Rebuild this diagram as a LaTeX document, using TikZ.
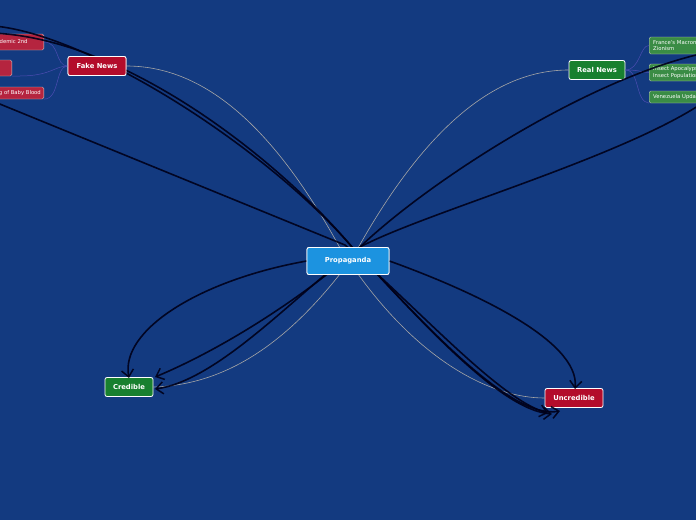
\documentclass[tikz,border=0pt]{standalone}
\usepackage{fontspec}
\setmainfont{DejaVu Sans}
\usetikzlibrary{arrows.meta}
\definecolor{bg}{HTML}{133A80}
\definecolor{cred}{HTML}{B30C2B}
\definecolor{cgreen}{HTML}{18802F}
\definecolor{cblue}{HTML}{1C93E0}
\definecolor{sred}{HTML}{B5243F}
\definecolor{sgreen}{HTML}{3A8C45}
\begin{document}
\begin{tikzpicture}[x=1pt,y=-1pt,
  main/.style={draw=white,line width=0.8pt,rounded corners=2pt,text=white,font=\bfseries\fontsize{6.8}{7}\selectfont,inner sep=0pt},
  sub/.style={draw=white!60!gray,line width=0.3pt,rounded corners=1.5pt,text=white,font=\fontsize{5.3}{6.3}\selectfont,inner sep=1.5pt,align=left},
  conn/.style={draw=gray!70,line width=0.6pt},
  sconn/.style={draw=gray!60!blue,line width=0.5pt},
  rel/.style={draw=black!90!blue,line width=1.6pt,opacity=0.9},
  relarr/.style={rel,-{Straight Barb[length=7pt,width=12pt,line width=1.5pt]}}]
\fill[bg] (0,0) rectangle (696,520);
\useasboundingbox (0,0) rectangle (696,520);
\begin{scope}
\clip (0,0) rectangle (696,520);
% children left
\node[sub,fill=sred,minimum height=16pt,anchor=east,minimum width=70pt,inner xsep=4pt] (l1) at (44,42) {Pandemic 2nd};
\node[sub,fill=sred,minimum height=16pt,anchor=east,minimum width=40pt] (l2) at (12,68) {};
\node[sub,fill=sred,minimum height=12pt,anchor=east,inner xsep=3pt] (l3) at (44,93) {Drinking of Baby Blood};
% children right
\node[sub,fill=sgreen,minimum height=17pt,anchor=west,text width=60pt,inner xsep=4pt] (r1) at (649,45.5) {France's Macron\\Zionism};
\node[sub,fill=sgreen,minimum height=17pt,anchor=west,text width=60pt,inner xsep=4pt] (r2) at (649,72.5) {Insect Apocalypse\\Insect Population};
\node[sub,fill=sgreen,minimum height=12pt,anchor=west,text width=60pt,inner xsep=4pt] (r3) at (649,97) {Venezuela Update};
% main nodes
\node[main,fill=cblue,minimum width=82pt,minimum height=27pt] (p) at (348,261) {Propaganda};
\node[main,fill=cred,minimum width=58pt,minimum height=19pt] (fn) at (97,66) {Fake News};
\node[main,fill=cgreen,minimum width=56pt,minimum height=19pt] (rn) at (597,70) {Real News};
\node[main,fill=cgreen,minimum width=48pt,minimum height=19pt] (cr) at (129,387) {Credible};
\node[main,fill=cred,minimum width=58pt,minimum height=19pt] (un) at (574,398) {Uncredible};
% sub connectors
\draw[sconn] (fn.west) .. controls (55,66) and (60,42) .. (l1.east);
\draw[sconn] (fn.west) .. controls (55,66) and (50,76) .. (20,76) -- (l2.south east);
\draw[sconn] (fn.west) .. controls (55,66) and (60,99) .. (l3.south east);
\draw[sconn] (rn.east) .. controls (640,70) and (640,45) .. (r1.west);
\draw[sconn] (rn.east) .. controls (640,70) and (640,72) .. (r2.west);
\draw[sconn] (rn.east) .. controls (640,70) and (635,102) .. (r3.south west);
% main connectors
\draw[conn] (340,248) .. controls (270,120) and (200,66) .. (fn.east);
\draw[conn] (358,248) .. controls (430,120) and (500,70) .. (rn.west);
\draw[conn] (340,274) .. controls (280,350) and (220,385) .. (cr.east);
\draw[conn] (358,274) .. controls (420,360) and (490,398) .. (un.west);
% relationships
\coordinate (L1) at (-30,26);
\coordinate (L2) at (-20,33);
\coordinate (L3) at (-10,100);
\coordinate (R1) at (720,50);
\coordinate (R2) at (720,90);
\draw[relarr] (L1) .. controls (60,15) and (260,140) .. (352,247) .. controls (420,320) and (500,410) .. (552,414);
\draw[relarr] (L2) .. controls (110,30) and (270,150) .. (352,247) .. controls (420,320) and (510,420) .. (560,411);
\draw[relarr] (L3) -- (345,245) .. controls (420,310) and (500,400) .. (548,413);
\draw[relarr] (R1) .. controls (600,70) and (430,180) .. (360,247) .. controls (300,300) and (220,350) .. (155,377);
\draw[relarr] (R2) .. controls (650,150) and (430,210) .. (360,247) .. controls (300,290) and (220,380) .. (155,389);
\draw[relarr] (p.west) .. controls (200,280) and (120,330) .. (129,378);
\draw[relarr] (p.east) .. controls (470,290) and (580,340) .. (575,389);
% main nodes on top
\node[main,fill=cblue,minimum width=82pt,minimum height=27pt] at (348,261) {Propaganda};
\node[main,fill=cred,minimum width=58pt,minimum height=19pt] at (97,66) {Fake News};
\end{scope}
\end{tikzpicture}
\end{document}
